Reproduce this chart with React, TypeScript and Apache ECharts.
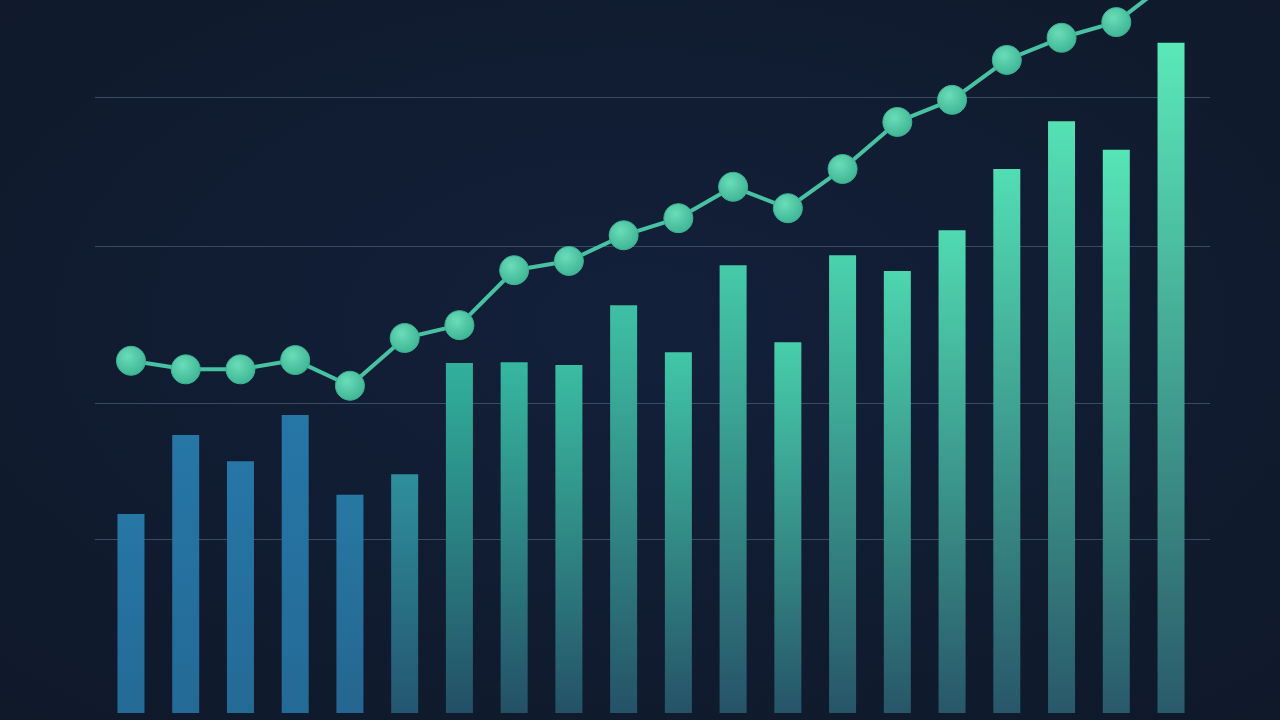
import React, { useEffect, useRef } from "react";
import * as echarts from "echarts";

const categories = ["1","2","3","4","5","6","7","8","9","10","11","12","13","14","15","16","17","18","19","20"];
const barValues = [27.9, 39.0, 35.3, 41.8, 30.6, 33.5, 49.1, 49.2, 48.8, 57.2, 50.6, 62.8, 52.0, 64.2, 62.0, 67.7, 76.3, 83.0, 79.0, 94.0];
const lineValues = [49.4, 48.2, 48.2, 49.5, 45.9, 52.6, 54.4, 62.1, 63.4, 67.0, 69.4, 73.8, 70.8, 76.3, 82.9, 86.0, 91.6, 94.7, 96.9, 102.8];
const gridLevels = [24.3, 43.5, 65.5, 86.3];

function hex(c: string) {
  return [parseInt(c.slice(1, 3), 16), parseInt(c.slice(3, 5), 16), parseInt(c.slice(5, 7), 16)];
}
function mix(a: string, b: string, t: number) {
  const A = hex(a), B = hex(b);
  const r = A.map((v, k) => Math.round(v + (B[k] - v) * t));
  return `rgb(${r[0]},${r[1]},${r[2]})`;
}
function barColor(i: number) {
  let top: string;
  let bottom: string;
  if (i <= 3) {
    top = "#2676a6";
    bottom = "#246a96";
  } else if (i === 4) {
    top = "#2878a4";
    bottom = "#246690";
  } else if (i === 5) {
    top = "#2e8f9c";
    bottom = "#245670";
  } else {
    const t = (i - 6) / 13;
    top = mix("#31b09c", "#5ae8b8", Math.pow(t, 0.8));
    bottom = mix("#234f66", "#2a5a6a", t);
  }
  return new echarts.graphic.LinearGradient(0, 0, 0, 1, [
    { offset: 0, color: top },
    { offset: 1, color: bottom },
  ]);
}

export default function App() {
  const ref = useRef<HTMLDivElement>(null);
  useEffect(() => {
    if (!ref.current) return;
    const chart = echarts.init(ref.current, undefined, { renderer: "svg" });
    chart.setOption({
      animation: false,
      backgroundColor: new echarts.graphic.RadialGradient(0.5, 0.45, 0.8, [
        { offset: 0, color: "#13203a" },
        { offset: 1, color: "#0e1828" },
      ]),
      grid: [
        { left: 95, right: 70, top: 0, bottom: 7 },
        { left: 103.6, right: 81.6, top: 0, bottom: 7 },
      ],
      xAxis: [
        { type: "category", gridIndex: 0, data: categories, show: false },
        { type: "category", gridIndex: 1, data: categories, show: false, boundaryGap: true },
      ],
      yAxis: [
        { type: "value", gridIndex: 0, min: 0, max: 100, show: false, splitLine: { show: false } },
        { type: "value", gridIndex: 1, min: 0, max: 100, show: false, splitLine: { show: false } },
      ],
      series: [
        {
          type: "line",
          xAxisIndex: 0,
          yAxisIndex: 0,
          z: 0,
          data: categories.map(() => null),
          silent: true,
          markLine: {
            z: 0,
            silent: true,
            symbol: "none",
            label: { show: false },
            lineStyle: { color: "#3a4a60", width: 1.2, type: "solid" },
            data: gridLevels.map((v) => ({ yAxis: v })),
          },
        },
        {
          type: "bar",
          xAxisIndex: 1,
          yAxisIndex: 1,
          z: 3,
          barWidth: 27,
          data: barValues.map((v, i) => ({ value: v, itemStyle: { color: barColor(i) } })),
        },
        {
          type: "line",
          xAxisIndex: 1,
          yAxisIndex: 1,
          data: lineValues,
          clip: true,
          symbol: "circle",
          symbolSize: 29,
          lineStyle: { color: "#48c2a2", width: 4 },
          itemStyle: {
            color: new echarts.graphic.RadialGradient(0.4, 0.35, 0.7, [
              { offset: 0, color: "#6adcb8" },
              { offset: 1, color: "#3db493" },
            ]),
            borderColor: "#3ab393",
            borderWidth: 1,
          },
          z: 6,
        },
      ],
    });
    return () => chart.dispose();
  }, []);
  return <div ref={ref} style={{ position: "fixed", left: 0, top: 0, width: 1280, height: 720 }} />;
}
